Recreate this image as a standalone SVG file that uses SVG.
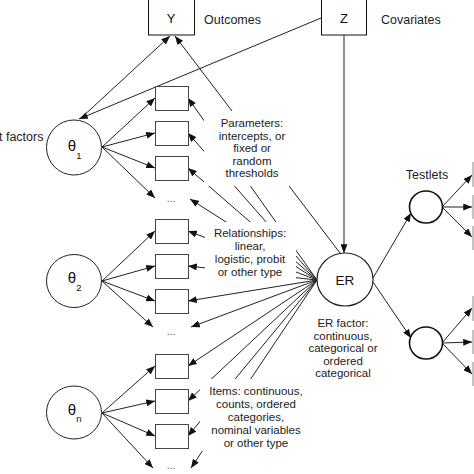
<svg xmlns="http://www.w3.org/2000/svg" width="474" height="474" viewBox="0 0 474 474">
<defs>
<marker id="ah" viewBox="0 0 10 8" refX="10" refY="4" markerWidth="9" markerHeight="7" markerUnits="userSpaceOnUse" orient="auto"><path d="M0,0 L10,4 L0,8 z" fill="#111"/></marker>
<style>
.t{font-family:"Liberation Sans",Arial,sans-serif;font-size:11.5px;fill:#222;text-anchor:middle}
.lbl{font-family:"Liberation Sans",Arial,sans-serif;font-size:12.5px;fill:#222}
.big{font-family:"Liberation Sans",Arial,sans-serif;font-size:13px;fill:#111;text-anchor:middle}
.th{font-family:"Liberation Sans",Arial,sans-serif;font-size:15px;fill:#111;text-anchor:middle}
.sub{font-family:"Liberation Sans",Arial,sans-serif;font-size:9.5px;fill:#111;text-anchor:middle}
.dots{font-family:"Liberation Sans",Arial,sans-serif;font-size:10px;fill:#444;text-anchor:middle}
.c line{stroke:#222;stroke-width:1;fill:none}
.a{marker-end:url(#ah)}
.box{fill:#fff;stroke:#444;stroke-width:1}
.node{fill:#fff;stroke:#222;stroke-width:1}
.tl{fill:#fff;stroke:#111;stroke-width:1.6}
.bg{fill:#fff;stroke:none}
.cut{fill:#fff;stroke:#c4c4c4;stroke-width:2}
</style>
</defs>
<rect x="0" y="0" width="474" height="474" fill="#fff"/>

<g id="connectors" class="c">
<line class="a" x1="80" y1="119" x2="170" y2="36"/>
<line class="a" x1="321" y1="18" x2="79" y2="119"/>
<line class="a" x1="340" y1="253" x2="175" y2="36"/>
<line class="a" x1="344" y1="35" x2="344" y2="253"/>
<line class="a" x1="102" y1="147" x2="155" y2="98"/>
<line class="a" x1="102" y1="147" x2="155" y2="133"/>
<line class="a" x1="102" y1="147" x2="155" y2="168"/>
<line class="a" x1="102" y1="147" x2="155" y2="198"/>
<line class="a" x1="102" y1="281" x2="155" y2="231"/>
<line class="a" x1="102" y1="281" x2="155" y2="266"/>
<line class="a" x1="102" y1="281" x2="155" y2="301"/>
<line class="a" x1="102" y1="281" x2="153" y2="327"/>
<line class="a" x1="102" y1="413" x2="155" y2="366"/>
<line class="a" x1="102" y1="413" x2="155" y2="401"/>
<line class="a" x1="102" y1="413" x2="155" y2="436"/>
<line class="a" x1="102" y1="413" x2="153" y2="468"/>
<line class="a" x1="317" y1="280" x2="188" y2="98"/>
<line class="a" x1="317" y1="280" x2="188" y2="133"/>
<line class="a" x1="317" y1="280" x2="188" y2="168"/>
<line class="a" x1="317" y1="280" x2="190" y2="199"/>
<line class="a" x1="317" y1="280" x2="188" y2="231"/>
<line class="a" x1="317" y1="280" x2="188" y2="266"/>
<line class="a" x1="317" y1="280" x2="188" y2="301"/>
<line class="a" x1="317" y1="280" x2="191" y2="327"/>
<line class="a" x1="317" y1="280" x2="188" y2="366"/>
<line class="a" x1="317" y1="280" x2="188" y2="401"/>
<line class="a" x1="317" y1="280" x2="188" y2="436"/>
<line class="a" x1="317" y1="280" x2="191" y2="468"/>
<line class="a" x1="373" y1="278" x2="411" y2="213"/>
<line class="a" x1="373" y1="282" x2="411" y2="338"/>
<line class="a" x1="442" y1="207" x2="472" y2="175"/>
<line class="a" x1="442" y1="207" x2="472" y2="207"/>
<line class="a" x1="442" y1="207" x2="472" y2="237"/>
<line class="a" x1="442" y1="343" x2="472" y2="308"/>
<line class="a" x1="442" y1="343" x2="472" y2="342"/>
<line class="a" x1="442" y1="343" x2="472" y2="374"/>
</g>

<g id="Y">
<rect class="box" x="148.5" y="-1" width="46" height="36" style="stroke:#111"/>
<text class="big" x="171" y="23">Y</text>
<text class="lbl" x="204" y="24">Outcomes</text>
</g>
<g id="Z">
<rect class="box" x="321.5" y="-1" width="45" height="36" style="stroke:#111"/>
<text class="big" x="344" y="23">Z</text>
<text class="lbl" x="381" y="24">Covariates</text>
</g>

<g id="latent-label"><text class="lbl" x="-1" y="141">t factors</text></g>

<g id="theta1">
<ellipse class="node" cx="74" cy="147.5" rx="27.5" ry="27.5"/>
<text class="th" x="72" y="151">θ</text><text class="sub" x="79" y="159">1</text>
</g>
<g id="theta2">
<ellipse class="node" cx="74" cy="281" rx="27.5" ry="26.5"/>
<text class="th" x="72" y="283">θ</text><text class="sub" x="79" y="291">2</text>
</g>
<g id="thetan">
<ellipse class="node" cx="74" cy="412.5" rx="27.5" ry="26.5"/>
<text class="th" x="72" y="415">θ</text><text class="sub" x="79" y="422">n</text>
</g>

<g id="items1">
<rect class="box" x="155.5" y="86.5" width="33" height="24"/>
<rect class="box" x="155.5" y="121.5" width="33" height="24"/>
<rect class="box" x="155.5" y="156.5" width="33" height="24"/>
<text class="dots" x="171" y="202">...</text>
</g>
<g id="items2">
<rect class="box" x="155.5" y="219.5" width="33" height="24"/>
<rect class="box" x="155.5" y="254.5" width="33" height="24"/>
<rect class="box" x="155.5" y="289.5" width="33" height="24"/>
<text class="dots" x="171" y="335">...</text>
</g>
<g id="items3">
<rect class="box" x="155.5" y="354.5" width="33" height="24"/>
<rect class="box" x="155.5" y="389.5" width="33" height="24"/>
<rect class="box" x="155.5" y="424.5" width="33" height="24"/>
<text class="dots" x="171" y="469">...</text>
</g>

<g id="parameters">
<rect class="bg" x="204" y="111" width="96" height="75"/>
<text class="t" x="252" y="127">Parameters:</text>
<text class="t" x="252" y="139.5">intercepts, or</text>
<text class="t" x="252" y="152">fixed or</text>
<text class="t" x="252" y="164.5">random</text>
<text class="t" x="252" y="177">thresholds</text>
</g>
<g id="relationships">
<rect class="bg" x="205" y="222" width="91" height="59"/>
<text class="t" x="250" y="236.5">Relationships:</text>
<text class="t" x="250" y="249.5">linear,</text>
<text class="t" x="250" y="262.5">logistic, probit</text>
<text class="t" x="250" y="275.5">or other type</text>
</g>
<g id="items-label">
<rect class="bg" x="200" y="379" width="106" height="72"/>
<text class="t" x="256" y="394.5">Items: continuous,</text>
<text class="t" x="256" y="407.5">counts, ordered</text>
<text class="t" x="256" y="420.5">categories,</text>
<text class="t" x="256" y="433.5">nominal variables</text>
<text class="t" x="256" y="446.5">or other type</text>
</g>

<g id="ER">
<ellipse class="node" cx="345" cy="279.5" rx="28" ry="26.5" style="stroke-width:1.2"/>
<text class="big" x="345" y="285" style="font-size:13.5px">ER</text>
<text class="t" x="343" y="327">ER factor:</text>
<text class="t" x="343" y="339.5">continuous,</text>
<text class="t" x="343" y="352">categorical or</text>
<text class="t" x="343" y="364.5">ordered</text>
<text class="t" x="343" y="377">categorical</text>
</g>

<g id="testlets">
<text class="lbl" x="427" y="179" text-anchor="middle">Testlets</text>
<ellipse class="tl" cx="426" cy="207" rx="16.5" ry="16"/>
<ellipse class="tl" cx="426" cy="343" rx="16.5" ry="16"/>
</g>
<g id="testlet-items">
<rect class="cut" x="473" y="163" width="20" height="23"/>
<rect class="cut" x="473" y="196" width="20" height="22"/>
<rect class="cut" x="473" y="227" width="20" height="22"/>
<rect class="cut" x="473" y="297" width="20" height="23"/>
<rect class="cut" x="473" y="331" width="20" height="22"/>
<rect class="cut" x="473" y="363" width="20" height="22"/>
</g>
</svg>
